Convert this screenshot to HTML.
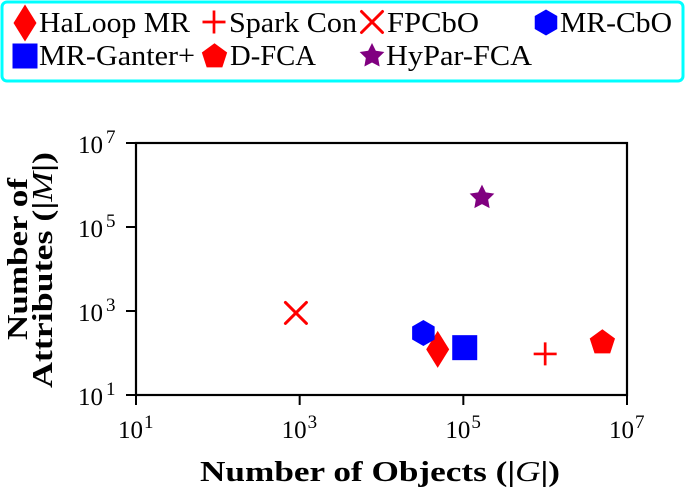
<!DOCTYPE html>
<html>
<head>
<meta charset="utf-8">
<title>Number of Objects vs Number of Attributes</title>
<style>
html,body{margin:0;padding:0;background:#fff;width:685px;height:490px;overflow:hidden}
svg{display:block}
text{font-family:"Liberation Serif",serif;fill:#000}
.leg{font-size:28px}
.tick{font-size:25px}
.sup{font-size:19px}
.title{font-size:29px;font-weight:bold}
</style>
</head>
<body>
<svg id="chart" width="685" height="490" viewBox="0 0 685 490" xmlns="http://www.w3.org/2000/svg">
  <rect x="2" y="2" width="681" height="79" rx="5" fill="#fff" stroke="#00ffff" stroke-width="3"/>
  <g id="legend"></g>
  <g id="plot"></g>
  <text class="title" x="200" y="481" textLength="360" lengthAdjust="spacingAndGlyphs">Number of Objects (|<tspan font-style="italic" font-weight="normal">G</tspan>|)</text>
  <text class="title" transform="translate(27,340) rotate(-90)" textLength="162" lengthAdjust="spacingAndGlyphs">Number of</text>
  <text class="title" transform="translate(52,388) rotate(-90)" textLength="236" lengthAdjust="spacingAndGlyphs">Attributes (|<tspan font-style="italic" font-weight="normal">M</tspan>|)</text>
</svg>
<script>
const seriesNames = ["HaLoop MR", "Spark Con", "FPCbO", "MR-CbO", "MR-Ganter+", "D-FCA", "HyPar-FCA"];
const objectCounts = [48600, 1000000, 900, 32500, 104000, 5000000, 169000];
const attributeCounts = [122, 95, 900, 300, 134, 177, 500000];
const seriesColors = ["#ff0000", "#ff0000", "#ff0000", "#0000ff", "#0000ff", "#ff0000", "#800080"];
const seriesMarkers = ["diamond", "plus", "cross", "hexagon", "square", "pentagon", "star"];
const tickExponents = [1, 3, 5, 7];

const NS = "http://www.w3.org/2000/svg";
const plot = document.getElementById("plot");
const legend = document.getElementById("legend");
const L = 136, R = 627, T = 143, B = 395;
const xScale = v => L + (Math.log10(v) - 1) / 6 * (R - L);
const yScale = v => B - (Math.log10(v) - 1) / 6 * (B - T);

function make(tag, attrs, parent) {
  const el = document.createElementNS(NS, tag);
  for (const k in attrs) el.setAttribute(k, attrs[k]);
  parent.appendChild(el);
  return el;
}
function regular(cx, cy, r, n, rot) {
  const p = [];
  for (let i = 0; i < n; i++) {
    const a = rot + i * 2 * Math.PI / n;
    p.push((cx + r * Math.cos(a)).toFixed(2) + "," + (cy + r * Math.sin(a)).toFixed(2));
  }
  return p.join(" ");
}
function starPts(cx, cy, r) {
  const p = [];
  for (let i = 0; i < 10; i++) {
    const a = -Math.PI / 2 + i * Math.PI / 5;
    const q = i % 2 ? r * 0.5 : r;
    p.push((cx + q * Math.cos(a)).toFixed(2) + "," + (cy + q * Math.sin(a)).toFixed(2));
  }
  return p.join(" ");
}
function drawMarker(kind, cx, cy, color, parent) {
  let el;
  if (kind === "diamond") {
    el = make("polygon", {points: `${cx},${cy-18.5} ${cx+11.5},${cy} ${cx},${cy+18.5} ${cx-11.5},${cy}`, fill: color}, parent);
  } else if (kind === "plus") {
    el = make("path", {d: `M${cx-11.5} ${cy}H${cx+11.5}M${cx} ${cy-11.5}V${cy+11.5}`, stroke: color, "stroke-width": 2.7, fill: "none"}, parent);
  } else if (kind === "cross") {
    el = make("path", {d: `M${cx-10.5} ${cy-10.5}L${cx+10.5} ${cy+10.5}M${cx-10.5} ${cy+10.5}L${cx+10.5} ${cy-10.5}`, stroke: color, "stroke-width": 3, "stroke-linecap": "round", fill: "none"}, parent);
  } else if (kind === "hexagon") {
    el = make("polygon", {points: regular(cx, cy, 13, 6, -Math.PI / 2), fill: color}, parent);
  } else if (kind === "square") {
    el = make("rect", {x: cx - 12.5, y: cy - 12.5, width: 25, height: 25, fill: color}, parent);
  } else if (kind === "pentagon") {
    el = make("polygon", {points: regular(cx, cy, 13.3, 5, -Math.PI / 2), fill: color}, parent);
  } else {
    el = make("polygon", {points: starPts(cx, cy, 13), fill: color}, parent);
  }
  return el;
}

/* axes frame */
const frame = make("rect", {x: L, y: T, width: R - L, height: B - T, fill: "none", stroke: "#000", "stroke-width": 2.2}, plot);



/* ticks */
tickExponents.forEach(function (e) {
  const v = Math.pow(10, e);
  const x = xScale(v), y = yScale(v);
  const xt = make("line", {x1: x, x2: x, y1: B, y2: B + 10, stroke: "#000", "stroke-width": 2}, plot);
  
  
  const yt = make("line", {x1: L - 10, x2: L, y1: y, y2: y, stroke: "#000", "stroke-width": 2}, plot);
  
  

  const xl = make("text", {class: "tick", x: x - 18, y: 438}, plot);
  
  
  xl.textContent = "10";
  const xs = make("text", {class: "sup", x: x + 8, y: 428}, plot);
  
  
  xs.textContent = String(e);

  const yl = make("text", {class: "tick", x: 78, y: y + 10}, plot);
  
  
  yl.textContent = "10";
  const ys = make("text", {class: "sup", x: 106, y: y}, plot);
  
  
  ys.textContent = String(e);
});

/* points */
seriesNames.forEach(function (name, i) {
  const m = drawMarker(seriesMarkers[i], xScale(objectCounts[i]), yScale(attributeCounts[i]), seriesColors[i], plot);
  
  
});

/* legend layout slots: marker x, text x, text baseline, text width */
const legendSlots = [[25, 39, 32, 151], [214, 229, 32, 128], [372, 387, 32, 92], [546, 560, 32, 112], [25, 39, 65, 156], [214.5, 230, 65, 86], [372, 386, 65, 146]];
const legendMarkerY = [23, 22, 22, 22.5, 56, 56.6, 56];
seriesNames.forEach(function (name, i) {
  const s = legendSlots[i];
  const m = drawMarker(seriesMarkers[i], s[0], legendMarkerY[i], seriesColors[i], legend);
  
  
  const t = make("text", {class: "leg", x: s[1], y: s[2], textLength: s[3], lengthAdjust: "spacingAndGlyphs"}, legend);
  
  
  t.textContent = name;
});
</script>
</body>
</html>
